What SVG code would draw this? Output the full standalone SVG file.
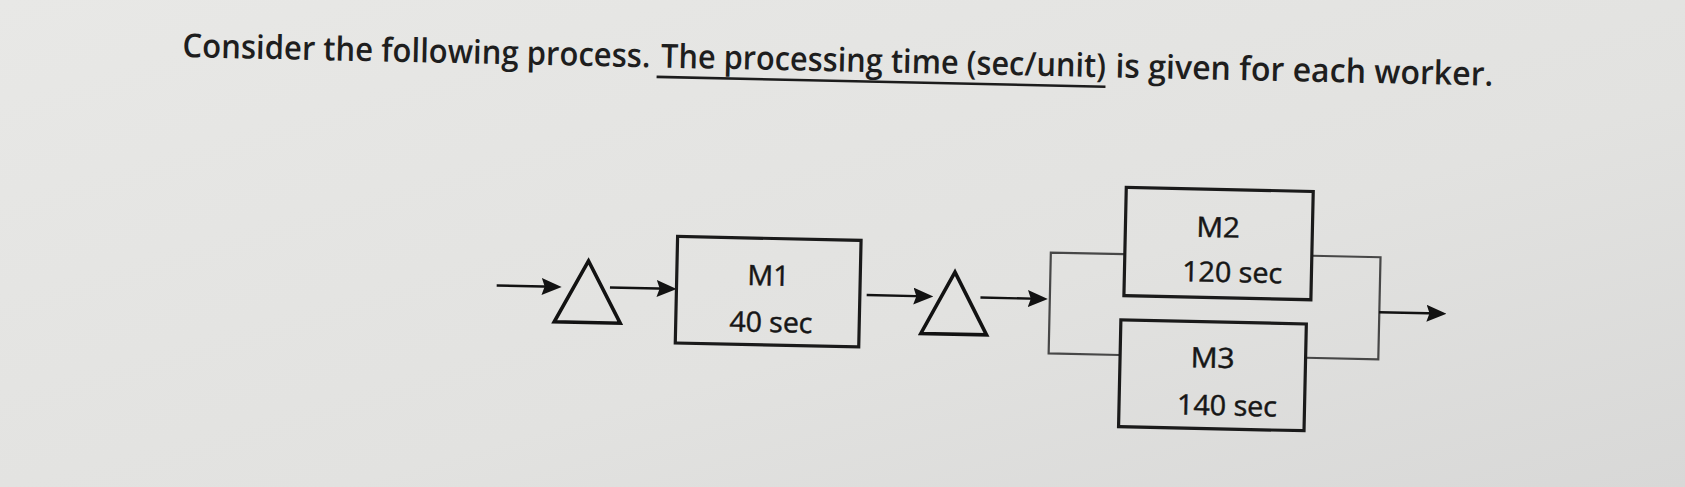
<svg xmlns="http://www.w3.org/2000/svg" width="1685" height="487" viewBox="0 0 1685 487">
  <defs>
    <linearGradient id="bg" x1="0" y1="0" x2="1" y2="1">
      <stop offset="0" stop-color="#e8e8e6"/>
      <stop offset="0.6" stop-color="#e2e2e0"/>
      <stop offset="1" stop-color="#d8d8d7"/>
    </linearGradient>
    <marker id="arrow" viewBox="0 0 20 17" markerWidth="20" markerHeight="17" refX="13" refY="8.5" markerUnits="userSpaceOnUse" orient="auto">
      <path d="M0,0 L20,8.5 L0,17 L3,8.5 z" fill="#121212"/>
    </marker>
    <style>
      .title { font-family: "Open Sans", "Noto Sans", "Liberation Sans", sans-serif; font-size: 33px; font-weight: 600; fill: #1e1e1e; }
      .label { font-family: "Open Sans", "Noto Sans", "Liberation Sans", sans-serif; font-size: 28px; font-weight: 400; fill: #161616; stroke: #161616; stroke-width: 0.5; text-anchor: middle; }
      .box { fill: none; stroke: #1a1a1a; stroke-width: 3.2; }
      .buffer { fill: none; stroke: #121212; stroke-width: 3.6; stroke-linejoin: miter; }
      .flow { fill: none; stroke: #121212; stroke-width: 2.4; marker-end: url(#arrow); }
      .branch { fill: none; stroke: #474747; stroke-width: 2.2; }
      .uline { stroke: #1c1c1c; stroke-width: 2.6; }
    </style>
  </defs>
  <rect x="0" y="0" width="1685" height="487" fill="url(#bg)"/>
  <g transform="rotate(1.25 842 243)">
    <g id="title">
      <text class="title" y="71.5"><tspan x="178.4" textLength="468" lengthAdjust="spacingAndGlyphs">Consider the following process.</tspan> <tspan x="657" textLength="445" lengthAdjust="spacingAndGlyphs">The processing time (sec/unit)</tspan> <tspan x="1111.5" textLength="378" lengthAdjust="spacingAndGlyphs">is given for each worker.</tspan></text>
      <line class="uline" x1="653" y1="81" x2="1102" y2="81"/>
    </g>
    <g id="connectors">
      <path class="flow" d="M497.7,293 H555.7"/>
      <path class="flow" d="M611,292.5 H670.7"/>
      <path class="flow" d="M867.8,294.5 H927.5"/>
      <path class="flow" d="M981.6,294.5 H1042"/>
      <path class="branch" d="M1124.5,248 H1051 V348.9 H1122"/>
      <path class="branch" d="M1312,245.5 H1380.7 V347.6 H1308"/>
      <path class="flow" d="M1380.4,300.5 H1440.9"/>
    </g>
    <g id="buffer1">
      <polygon class="buffer" points="589,266.5 556,328 622,328"/>
    </g>
    <g id="M1">
      <rect class="box" x="677.5" y="240" width="183.5" height="106.6"/>
      <text class="label" x="769.2" y="287" textLength="42" lengthAdjust="spacingAndGlyphs">M1</text>
      <text class="label" x="772.7" y="333.6" textLength="83" lengthAdjust="spacingAndGlyphs">40 sec</text>
    </g>
    <g id="buffer2">
      <polygon class="buffer" points="955.6,269.7 922.8,331.7 988.5,331.7"/>
    </g>
    <g id="M2">
      <rect class="box" x="1125" y="181.2" width="187" height="108.3"/>
      <text class="label" x="1217.7" y="229" textLength="43.5" lengthAdjust="spacingAndGlyphs">M2</text>
      <text class="label" x="1232.7" y="273.6" textLength="100" lengthAdjust="spacingAndGlyphs">120 sec</text>
    </g>
    <g id="M3">
      <rect class="box" x="1122.5" y="313.8" width="185.5" height="106.8"/>
      <text class="label" x="1215.1" y="359.6" textLength="44" lengthAdjust="spacingAndGlyphs">M3</text>
      <text class="label" x="1230.5" y="407" textLength="100" lengthAdjust="spacingAndGlyphs">140 sec</text>
    </g>
  </g>
</svg>
